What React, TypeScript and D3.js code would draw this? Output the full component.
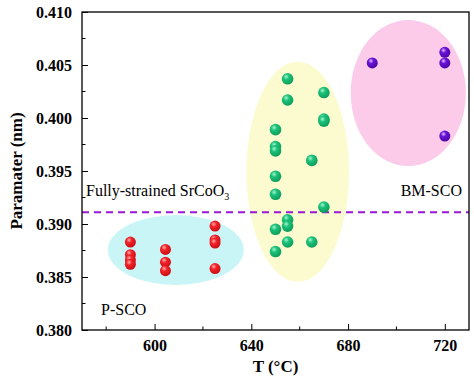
import { useEffect, useRef } from "react";
import * as d3 from "d3";

// Data
const pSco = [
  [590, 0.3883], [590, 0.3871], [590, 0.3866], [590, 0.3862],
  [604.5, 0.3876], [604.5, 0.3864], [604.5, 0.3856],
  [625, 0.3898], [625, 0.3885], [625, 0.3882], [625, 0.3858],
];
const gSco = [
  [655, 0.4037], [655, 0.4017], [670, 0.4024], [670, 0.3999], [670, 0.3997],
  [650, 0.3989], [650, 0.3973], [650, 0.3969], [665, 0.396], [650, 0.3945],
  [650, 0.3928], [670, 0.3916], [655, 0.3904], [655, 0.3898], [650, 0.3895],
  [655, 0.3883], [665, 0.3883], [650, 0.3874],
];
const bmSco = [
  [690, 0.4052], [720, 0.4062], [720, 0.4052], [720, 0.3983],
];
// ellipses: [cx, cy, rx (°C), ry (nm)]
const regions = [
  { c: [608.8, 0.38755], r: [28.1, 0.0033], fill: "#c9f5f7" },
  { c: [659.2, 0.39493], r: [21.2, 0.01038], fill: "#fcfbcf" },
  { c: [704.9, 0.40236], r: [23.8, 0.00689], fill: "#fbcbe9" },
];
const strainLine = 0.3911;
const xTicks = [600, 640, 680, 720];
const yTicks = [0.38, 0.385, 0.39, 0.395, 0.4, 0.405, 0.41];

const App = () => {
  const ref = useRef(null);

  useEffect(() => {
    const width = 474;
    const height = 384;
    const margin = { top: 12, right: 5, bottom: 54, left: 82 };
    const font = "'Liberation Serif', 'Times New Roman', Times, serif";

    d3.select(ref.current).selectAll("*").remove();
    const svg = d3
      .select(ref.current)
      .append("svg")
      .attr("width", width)
      .attr("height", height)
      .style("display", "block")
      .style("position", "absolute")
      .style("left", "0px")
      .style("top", "0px")
      .attr("font-family", font);

    const x = d3.scaleLinear().domain([570, 730]).range([margin.left, width - margin.right]);
    const y = d3.scaleLinear().domain([0.38, 0.41]).range([height - margin.bottom, margin.top]);

    // sphere gradients
    const defs = svg.append("defs");
    const grad = (id, light, mid, dark) => {
      const g = defs.append("radialGradient").attr("id", id)
        .attr("cx", "0.38").attr("cy", "0.32").attr("r", "0.7");
      g.append("stop").attr("offset", "0").attr("stop-color", light);
      g.append("stop").attr("offset", "0.35").attr("stop-color", mid);
      g.append("stop").attr("offset", "1").attr("stop-color", dark);
    };
    grad("gRed", "#ffb0b0", "#f2232a", "#c80d12");
    grad("gGreen", "#a8f5d0", "#1cc27b", "#0c9a5a");
    grad("gPurple", "#e0c0ff", "#6a12d8", "#4a05a6");

    // ellipses
    svg.append("g")
      .selectAll("ellipse")
      .data(regions)
      .join("ellipse")
      .attr("cx", (d) => x(d.c[0]))
      .attr("cy", (d) => y(d.c[1]))
      .attr("rx", (d) => x(d.c[0] + d.r[0]) - x(d.c[0]))
      .attr("ry", (d) => y(d.c[1] - d.r[1]) - y(d.c[1]))
      .attr("fill", (d) => d.fill);

    // dashed strain line
    svg.append("line")
      .attr("x1", x(570)).attr("x2", x(730))
      .attr("y1", y(strainLine)).attr("y2", y(strainLine))
      .attr("stroke", "#9a17d6")
      .attr("stroke-width", 2)
      .attr("stroke-dasharray", "7,5");

    // points
    const drawPts = (data, id, r) => {
      svg.append("g")
        .selectAll("circle")
        .data(data)
        .join("circle")
        .attr("cx", (d) => x(d[0]))
        .attr("cy", (d) => y(d[1]))
        .attr("r", r)
        .attr("fill", `url(#${id})`);
    };
    drawPts(pSco, "gRed", 5.5);
    drawPts(gSco, "gGreen", 5.8);
    drawPts(bmSco, "gPurple", 5.5);

    // axes (ticks inward)
    const xAxis = svg.append("g")
      .attr("transform", `translate(0,${height - margin.bottom})`)
      .call(d3.axisBottom(x).tickValues(xTicks).tickSizeInner(-6).tickSizeOuter(0).tickPadding(10).tickFormat(d3.format("d")));
    xAxis.append("g").selectAll("line")
      .data([580, 620, 660, 700])
      .join("line")
      .attr("x1", (d) => x(d)).attr("x2", (d) => x(d))
      .attr("y1", 0).attr("y2", -3.5)
      .attr("stroke", "#000");

    const yAxis = svg.append("g")
      .attr("transform", `translate(${margin.left},0)`)
      .call(d3.axisLeft(y).tickValues(yTicks).tickSizeInner(-6).tickSizeOuter(0).tickPadding(10).tickFormat(d3.format(".3f")));
    yAxis.append("g").selectAll("line")
      .data([0.3825, 0.3875, 0.3925, 0.3975, 0.4025, 0.4075])
      .join("line")
      .attr("x1", 0).attr("x2", 3.5)
      .attr("y1", (d) => y(d)).attr("y2", (d) => y(d))
      .attr("stroke", "#000");

    xAxis.attr("font-family", font);
    yAxis.attr("font-family", font);
    svg.selectAll(".tick text")
      .attr("font-size", 16)
      .attr("font-weight", "bold")
      .attr("fill", "#000");
    svg.selectAll(".domain").attr("stroke", "none");

    // frame
    svg.append("rect")
      .attr("x", margin.left).attr("y", margin.top)
      .attr("width", width - margin.left - margin.right)
      .attr("height", height - margin.top - margin.bottom)
      .attr("fill", "none")
      .attr("stroke", "#000")
      .attr("stroke-width", 1.3);

    // axis titles
    svg.append("text")
      .attr("x", x(650)).attr("y", 372)
      .attr("text-anchor", "middle")
      .attr("font-size", 17).attr("font-weight", "bold")
      .text("T (°C)");
    svg.append("text")
      .attr("transform", `translate(22,${(margin.top + height - margin.bottom) / 2}) rotate(-90)`)
      .attr("text-anchor", "middle")
      .attr("font-size", 17).attr("font-weight", "bold")
      .text("Paramater (nm)");

    // labels
    const lbl = svg.append("text")
      .attr("x", 86).attr("y", 196)
      .attr("font-size", 16);
    lbl.append("tspan").text("Fully-strained SrCoO");
    lbl.append("tspan").attr("font-size", 10).attr("dy", 4).text("3");

    svg.append("text")
      .attr("x", 462).attr("y", 196)
      .attr("text-anchor", "end")
      .attr("font-size", 16)
      .text("BM-SCO");
    svg.append("text")
      .attr("x", 101).attr("y", 315)
      .attr("font-size", 16)
      .text("P-SCO");
  }, []);

  return <div ref={ref}></div>;
};

export default App;
